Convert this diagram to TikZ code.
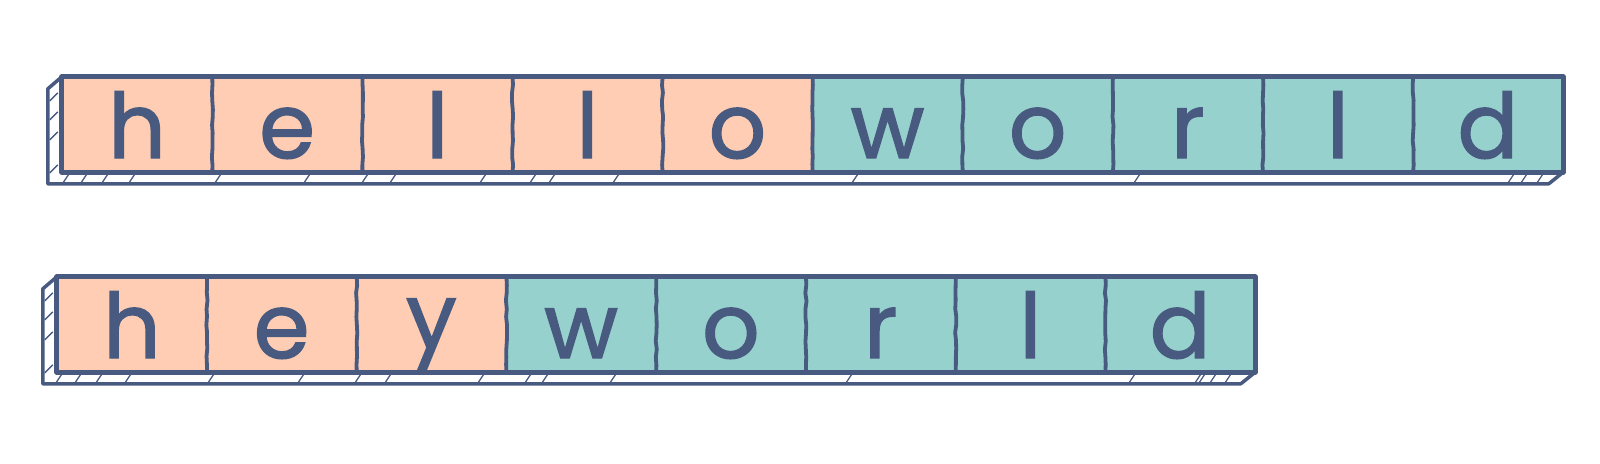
\documentclass[tikz,border=0pt]{standalone}
\usepackage{fontspec}
\setmainfont{Poppins}
\newfontfamily\cellfont{Poppins}[FakeBold=1.6]
\usetikzlibrary{decorations.pathmorphing}

\definecolor{peach}{HTML}{FFCDB3}
\definecolor{seafoam}{HTML}{97D1CD}
\definecolor{inkblue}{HTML}{485A80}

\tikzset{
    cell/.style={inner sep=0pt, minimum width=#1, text height=81pt, text depth=14pt,
        font=\cellfont\fontsize{90}{90}\selectfont, text=inkblue},
    divider/.style={draw=inkblue, line width=3.8pt,
        decorate, decoration={random steps, segment length=8pt, amplitude=0.6pt}},
    outline/.style={draw=inkblue, line width=5pt, line join=round},
    face/.style={draw=inkblue, line width=3.5pt, fill=white, line join=round},
    hatch/.style={draw=inkblue, line width=1.3pt}
}

\begin{document}
\begin{tikzpicture}[x=1pt, y=-1pt]
    \useasboundingbox (0,0) rectangle (1600,463);
    \pgfmathsetseed{7}

    % hello world
    \foreach \ch [count=\i] in {h,e,l,l,o}
        \node[cell=150.1pt, fill=peach] (t\i) at ({62+(\i-0.5)*150.1},124.5) {\ch};
    \foreach \ch [count=\i from 6] in {w,o,r,l,d}
        \node[cell=150.1pt, fill=seafoam] (t\i) at ({62+(\i-0.5)*150.1},124.5) {\ch};

    \draw[face] (t1.north west) -- ++(-14,12) -- ++(0,95) -- ++(1501,0)
        -- (t10.south east) -- (t1.south west) -- cycle;
    \foreach \d in {16,35,55,88}
        \draw[hatch] (t1.north west) ++(-12,\d+8) -- ++(8,-8);
    \foreach \d in {9,27,48,75,161,250,308,336,426,476,495,559,798,1080,1454,1467,1483}
        \draw[hatch] (t1.south west) ++(\d-8,11) -- ++(6,-9);
    \foreach \i in {1,...,9}
        \draw[divider] (t\i.north east) -- (t\i.south east);
    \draw[outline] (t1.north west) rectangle (t10.south east);

    % hey world
    \foreach \ch [count=\i] in {h,e,\raisebox{10pt}{y}}
        \node[cell=149.75pt, fill=peach] (b\i) at ({57+(\i-0.5)*149.75},324.5) {\ch};
    \foreach \ch [count=\i from 4] in {w,o,r,l,d}
        \node[cell=149.75pt, fill=seafoam] (b\i) at ({57+(\i-0.5)*149.75},324.5) {\ch};

    \draw[face] (b1.north west) -- ++(-14,12) -- ++(0,95) -- ++(1198,0)
        -- (b8.south east) -- (b1.south west) -- cycle;
    \foreach \d in {16,35,55,88}
        \draw[hatch] (b1.north west) ++(-12,\d+8) -- ++(8,-8);
    \foreach \d in {7,26,47,76,159,249,306,336,429,476,493,561,797,1080,1146,1150,1161,1176}
        \draw[hatch] (b1.south west) ++(\d-8,11) -- ++(6,-9);
    \foreach \i in {1,...,7}
        \draw[divider] (b\i.north east) -- (b\i.south east);
    \draw[outline] (b1.north west) rectangle (b8.south east);
\end{tikzpicture}
\end{document}
